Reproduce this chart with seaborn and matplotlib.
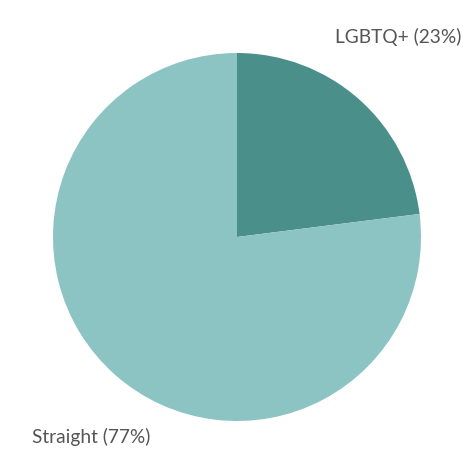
import matplotlib
matplotlib.use("Agg")
import matplotlib.pyplot as plt
import seaborn as sns

# Data
groups = ["LGBTQ+", "Straight"]
shares = [23, 77]
colors = ["#4b8f8b", "#8bc4c3"]

sns.set_theme(style="white")
plt.rcParams['font.family'] = ['Lato', 'DejaVu Sans']

fig = plt.figure(figsize=(4.74, 4.74), dpi=100)
r = 184 / 474
ax = fig.add_axes([0.5 - r, 0.5 - r, 2 * r, 2 * r])

labels = [f"{g} ({s}%)" for g, s in zip(groups, shares)]
wedges, texts = ax.pie(shares, colors=colors, startangle=90, counterclock=False,
                       labels=labels, wedgeprops=dict(linewidth=0))
ax.set_xlim(-1, 1)
ax.set_ylim(-1, 1)
ax.set_aspect("equal")

# move labels to where the reference has them
label_pos = [(0.875, 1.087), (-0.793, -1.087)]
for t, p in zip(texts, label_pos):
    t.set_position(p)
    t.set_ha("center")
    t.set_va("center")
    t.set_fontsize(13.8)
    t.set_color("#555555")
    t.set_clip_on(False)

fig.savefig("out.png", dpi=100, facecolor="white")
